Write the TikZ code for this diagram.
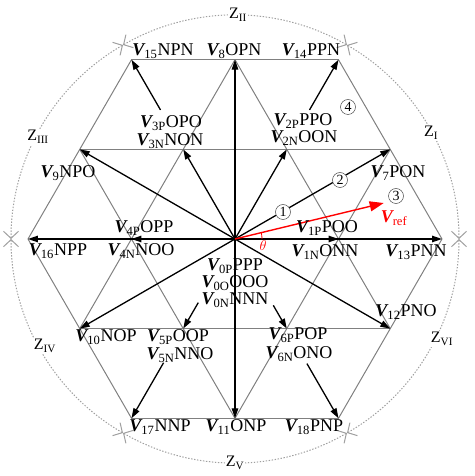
\documentclass[tikz,border=0pt]{standalone}
\usepackage{fontspec}
\setmainfont{Liberation Serif}
\usetikzlibrary{arrows.meta,calc}

\newcommand{\vlab}[2]{{\bfseries\itshape V}\textsubscript{#1}#2}
\newcommand{\zlab}[1]{Z\textsubscript{#1}}

\begin{document}
\begin{tikzpicture}
  [
    x=1pt, y=1pt,
    gridline/.style={draw=gray, line width=1pt},
    vec/.style={-{Triangle[length=10pt,width=6.5pt]}, line width=1.3pt},
    refvec/.style={-{Triangle[length=14pt,width=10pt]}, line width=1.4pt, red},
    zone/.style={draw=gray!75, dash pattern=on 1.4pt off 1.6pt, line width=1pt,
      {Straight Barb[length=7pt,width=15pt]}-{Straight Barb[length=7pt,width=15pt]}},
    lab/.style={inner sep=0pt, font=\fontsize{18}{20}\selectfont},
    zlabel/.style={inner sep=1pt, fill=white, font=\fontsize{16}{18}\selectfont},
    num/.style={circle, draw=black!70, line width=0.5pt, fill=white, inner sep=0pt,
      minimum size=15pt, font=\fontsize{14}{16}\selectfont}
  ]
  \useasboundingbox (-235,-237) rectangle (239,239);

  % lattice points
  \def\rin{103.5}
  \def\rmid{179.3}
  \def\rout{207}
  \coordinate (o) at (0,0);
  \foreach \i [evaluate=\i as \j using int(\i+6), evaluate=\i as \k using int(\i+12)] in {1,...,6} {
    \coordinate (v\i) at ({(\i-1)*60}:\rin);
    \coordinate (v\j) at ({(\i-1)*60+30}:\rmid);
    \coordinate (v\k) at ({(\i-1)*60}:\rout);
  }
  \coordinate (vr) at (13.6:153);

  % tails of the arrows that start at a label
  \coordinate (t14) at ($(v2)!0.44!(v14)$);
  \coordinate (t15) at ($(v3)!0.44!(v15)$);
  \coordinate (t5) at ($(o)!0.71!(v5)$);
  \coordinate (t6) at ($(o)!0.74!(v6)$);
  \coordinate (t17) at ($(v5)!0.38!(v17)$);
  \coordinate (t18) at ($(v6)!0.39!(v18)$);

  % hexagon and grid
  \foreach \from/\to in {v15/v14,v9/v7,v10/v12,v17/v18,v16/v15,v10/v8,v11/v7,v18/v13,v16/v17,v9/v11,v8/v12,v13/v14}
  \draw[gridline] (\from) -- (\to);

  % sectors
  \foreach \s in {0,60,...,300}
  \draw[zone] (\s:224) arc[start angle=\s, delta angle=60, radius=224];

  \node[zlabel] (z1) at (196,106) {\zlab{I}};
  \node[zlabel] (z2) at (3,224) {\zlab{II}};
  \node[zlabel] (z3) at (-197,102) {\zlab{III}};
  \node[zlabel] (z4) at (-190,-107) {\zlab{IV}};
  \node[zlabel] (z5) at (0,-224) {\zlab{V}};
  \node[zlabel] (z6) at (207,-100) {\zlab{VI}};

  % voltage vectors
  \foreach \to in {v13,v16,v1,v4,v2,v3,v7,v8,v9,v10,v11,v12}
  \draw[vec] (o) -- (\to);

  \foreach \from/\to in {t14/v14,t15/v15,t5/v5,t6/v6,t17/v17,t18/v18}
  \draw[vec] (\from) -- (\to);

  % reference vector
  \draw[refvec] (o) -- (vr);
  \draw[red, line width=0.8pt] (0:27) arc[start angle=0, end angle=13.6, radius=27];
  \node[lab, text=red, font=\fontsize{15}{16}\selectfont] (th) at (28,-7) {$\theta$};
  \node[lab, text=red] (lref) at (159,21) {\vlab{ref}{}};

  % regions
  \node[num] (n1) at (48,27) {1};
  \node[num] (n2) at (105,59) {2};
  \node[num] (n3) at (161,43) {3};
  \node[num] (n4) at (113,132) {4};

  % vector labels
  \node[lab] (l15) at (-72,188) {\vlab{15}{NPN}};
  \node[lab] (l8) at (-1,188) {\vlab{8}{OPN}};
  \node[lab] (l14) at (76,188) {\vlab{14}{PPN}};
  \node[lab] (l3p) at (-64,116) {\vlab{3P}{OPO}};
  \node[lab] (l3n) at (-65,98) {\vlab{3N}{NON}};
  \node[lab] (l2p) at (68,118) {\vlab{2P}{PPO}};
  \node[lab] (l2n) at (69,101) {\vlab{2N}{OON}};
  \node[lab] (l9) at (-167,66) {\vlab{9}{NPO}};
  \node[lab] (l7) at (163,66) {\vlab{7}{PON}};
  \node[lab] (l1p) at (92,11) {\vlab{1P}{POO}};
  \node[lab] (l4p) at (-91,11) {\vlab{4P}{OPP}};
  \node[lab] (l1n) at (90,-13) {\vlab{1N}{ONN}};
  \node[lab] (l13) at (181,-13) {\vlab{13}{PNN}};
  \node[lab] (l4n) at (-94,-12) {\vlab{4N}{NOO}};
  \node[lab] (l16) at (-177,-12) {\vlab{16}{NPP}};
  \node[lab] (l0p) at (0,-27) {\vlab{0P}{PPP}};
  \node[lab] (l0o) at (0,-44) {\vlab{0O}{OOO}};
  \node[lab] (l0n) at (0,-61) {\vlab{0N}{NNN}};
  \node[lab] (l12) at (171,-73) {\vlab{12}{PNO}};
  \node[lab] (l10) at (-129,-98) {\vlab{10}{NOP}};
  \node[lab] (l5p) at (-57,-98) {\vlab{5P}{OOP}};
  \node[lab] (l5n) at (-55,-116) {\vlab{5N}{NNO}};
  \node[lab] (l6p) at (63,-96) {\vlab{6P}{POP}};
  \node[lab] (l6n) at (64,-115) {\vlab{6N}{ONO}};
  \node[lab] (l17) at (-75,-188) {\vlab{17}{NNP}};
  \node[lab] (l11) at (1,-188) {\vlab{11}{ONP}};
  \node[lab] (l18) at (79,-188) {\vlab{18}{PNP}};

\end{tikzpicture}
\end{document}
